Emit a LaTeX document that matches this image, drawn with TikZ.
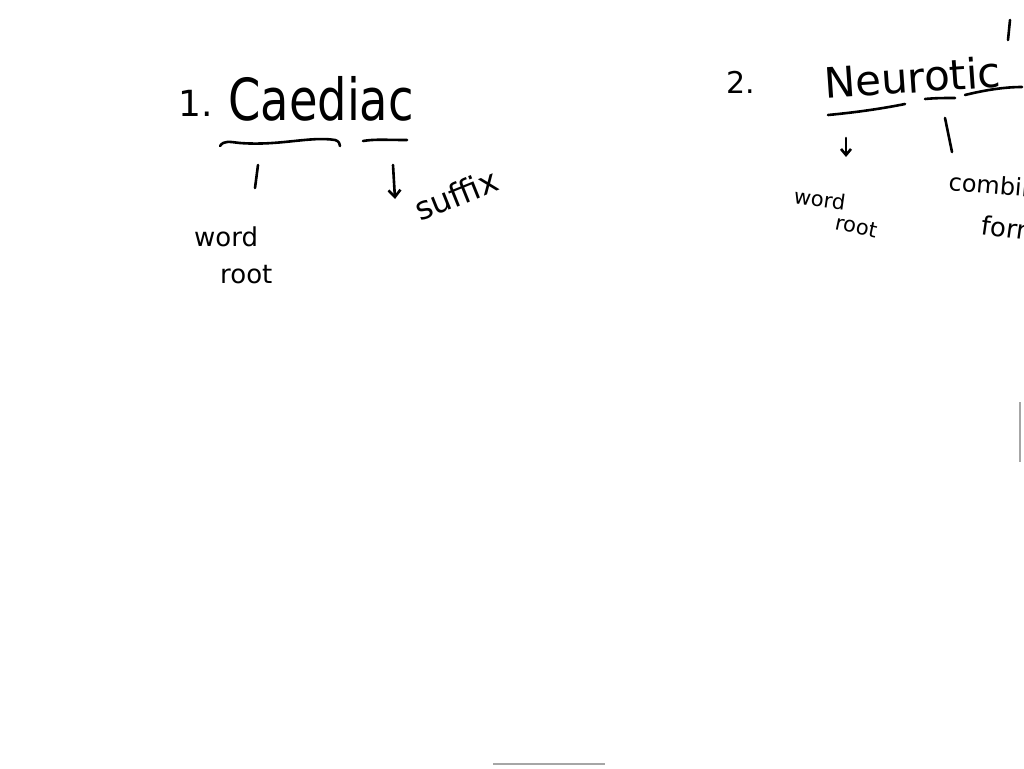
\documentclass[tikz,border=0pt]{standalone}
\usepackage{fontspec}
\setmainfont{DejaVu Sans}
\usetikzlibrary{arrows.meta}
\begin{document}
\begin{tikzpicture}[x=1pt,y=-1pt,
  ink/.style={line width=2.6pt,line cap=round,line join=round,black},
  hand/.style={inner sep=0pt,anchor=base west,font=\fontsize{#1}{#1}\selectfont},
  bar/.style={line width=2.5pt,gray!70}]
\useasboundingbox (0,0) rectangle (1024,768);
\clip (0,0) rectangle (1024,768);
% ---- 1. Caediac
\node[hand=36] (n1) at (178,116) {1.};
\node[hand=58,font=\fontsize{58}{58}\selectfont\addfontfeatures{FakeStretch=0.8}] (w1) at (228,120) {Caediac};
\draw[ink] (220,146) .. controls (224,140) and (230,142) .. (240,143) .. controls (280,146) and (310,136) .. (335,140) .. controls (339,141) and (340,144) .. (340,146);
\draw[ink] (363,141) .. controls (375,139) and (385,140) .. (407,140);
\coordinate (t1a) at (258,165); \coordinate (t1b) at (255,188);
\draw[ink] (t1a) -- (t1b);
\node[hand=26] (wr1) at (194,246) {word};
\node[hand=26] (rr1) at (220,283) {root};
\coordinate (a1a) at (393,165); \coordinate (a1b) at (395,199);
\draw[ink,-{Straight Barb[length=7pt,width=12pt]}] (a1a) -- (a1b);
\node[hand=32,rotate=22] (sf) at (420,222) {suffix};
% ---- 2. Neurotic
\node[hand=30] (n2) at (726,93) {2.};
\node[hand=42,rotate=4] (w2) at (825,99) {Neurotic};
\draw[ink] (1010,20) -- (1008,40);
\draw[ink] (828,115) .. controls (860,112) and (885,108) .. (905,104);
\draw[ink] (925,99) .. controls (935,98) and (945,98) .. (955,98);
\draw[ink] (965,95) .. controls (985,90) and (1005,87) .. (1022,87);
\coordinate (a2a) at (846,138); \coordinate (a2b) at (846,157);
\draw[ink,-{Straight Barb[length=6pt,width=10pt]}] (a2a) -- (a2b);
\node[hand=21,rotate=-8] (wr2) at (793,203) {word};
\node[hand=21,rotate=-12] (rr2) at (834,229) {root};
\coordinate (t2a) at (945,118); \coordinate (t2b) at (952,152);
\draw[ink] (t2a) -- (t2b);
\node[hand=24,rotate=-5] (cb) at (948,190) {combining};
\node[hand=26,rotate=-8] (fm) at (980,234) {form};
% ---- screen bars
\draw[bar] (1020,402) -- (1020,462);
\draw[bar] (493,764) -- (605,764);
\end{tikzpicture}
\end{document}
